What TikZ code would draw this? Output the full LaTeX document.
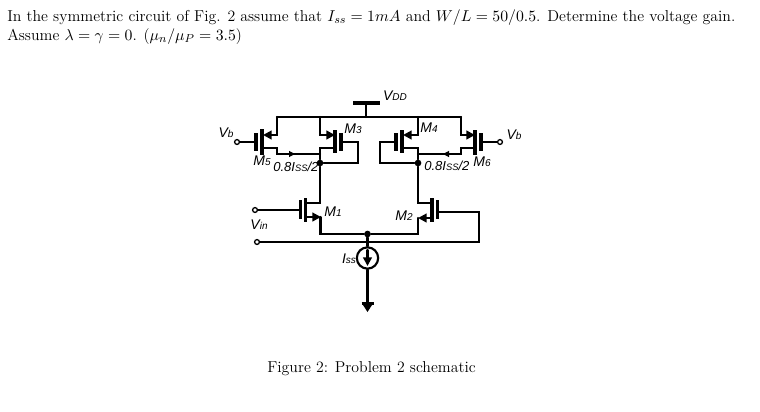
\documentclass[tikz,border=0pt]{standalone}
\usepackage{fontspec}
\newfontfamily\lblfont{Liberation Sans}
\usetikzlibrary{arrows.meta}
\tikzset{
  x=0.75pt,y=-0.75pt,
  wire/.style={line width=1.6pt,line cap=round,line join=miter},
  plate/.style={line width=2.3pt},
  tip/.style={-{Triangle[length=6.5pt,width=6.5pt]},line width=1.6pt,shorten >=0pt},
  smalltip/.style={-{Triangle[length=4.5pt,width=4.5pt]},line width=.8pt},
  term/.style={circle,draw,line width=1pt,fill=white,inner sep=0pt,minimum size=3.6pt},
  dot/.style={circle,fill=black,inner sep=0pt,minimum size=5pt},
  lbl/.style={font=\lblfont\itshape\fontsize{10.5}{12}\selectfont,inner sep=0pt,text=black},
  cur/.style={font=\lblfont\itshape\fontsize{9.8}{12}\selectfont,inner sep=0pt,text=black,anchor=west},
  body/.style={font=\fontsize{11}{13}\selectfont,scale=1.077,inner sep=0pt,anchor=base west}
}
\newcommand{\mysub}[1]{{\fontsize{7.5}{8}\selectfont #1}}
\newcommand{\cursub}[1]{{\fontsize{7}{8}\selectfont #1}}
\begin{document}
\begin{tikzpicture}
\useasboundingbox (0,0) rectangle (760,411);
\node[body] (l1) at (7,21) {In the symmetric circuit of Fig. 2 assume that $I_{ss}=1mA$ and $W/L=50/0.5$. Determine the voltage gain.};
\node[body] (l2) at (7,40) {Assume $\lambda=\gamma=0$. ($\mu_n/\mu_P=3.5$)};
\node[body] (cap) at (267,372) {Figure 2: Problem 2 schematic};
% supply
\coordinate (vl) at (353,103); \coordinate (vr) at (380,103); \coordinate (vt) at (366,103);
\coordinate (rs) at (366,117); \coordinate (rl) at (277,117); \coordinate (rm3) at (320,117);
\coordinate (rm4) at (418,117); \coordinate (rr) at (461,117);
\draw[line width=2.6pt] (vl) -- (vr);
\draw[wire] (vt) -- (rs);
\draw[wire] (rl) -- (rr);
% M5
\node[term] (tb5) at (237,142) {};
\coordinate (g5) at (256,142);
\draw[wire] (tb5) -- (g5);
\draw[plate] (256,133) -- (256,151);
\draw[plate] (262,129) -- (262,155);
\draw[wire] (rl) -- (277,135) -- (270,135);
\draw[tip] (272,135) -- (263,135);
\draw[wire] (262,148) -- (277,148) -- (277,154) -- (320,154);
\draw[smalltip] (285,154) -- (295,154);
% M3
\node[dot] (n3) at (320,163) {};
\draw[wire] (rm3) -- (320,135) -- (328,135);
\draw[tip] (326,135) -- (335,135);
\draw[plate] (335,130) -- (335,153);
\draw[plate] (341,133) -- (341,151);
\draw[wire] (335,148) -- (320,148) -- (n3);
\draw[wire] (341,142) -- (358,142) -- (358,163) -- (n3);
% M4
\node[dot] (n4) at (418,163) {};
\draw[wire] (rm4) -- (418,135) -- (411,135);
\draw[tip] (412,135) -- (403,135);
\draw[plate] (402,130) -- (402,153);
\draw[plate] (396,133) -- (396,151);
\draw[wire] (402,148) -- (418,148) -- (n4);
\draw[wire] (396,142) -- (380,142) -- (380,163) -- (n4);
% M6
\node[term] (tb6) at (500,142) {};
\draw[wire] (rr) -- (461,135) -- (468,135);
\draw[tip] (466,135) -- (475,135);
\draw[plate] (475,130) -- (475,155);
\draw[plate] (481,133) -- (481,151);
\draw[wire] (481,142) -- (tb6);
\draw[wire] (475,148) -- (461,148) -- (461,154) -- (418,154);
\draw[smalltip] (452,154) -- (443,154);
% M1
\node[term] (tin) at (255,210) {};
\node[dot] (tail) at (367.5,234) {};
\draw[wire] (tin) -- (300.5,210);
\draw[plate] (300.5,200) -- (300.5,219);
\draw[plate] (305.5,198) -- (305.5,222);
\draw[wire] (n3) -- (320,203) -- (305.5,203);
\draw[wire] (305.5,217) -- (312,217);
\draw[tip] (311,217) -- (321,217);
\draw[wire] (320.5,217) -- (320.5,234) -- (tail);
% M2
\node[term] (tin2) at (257,242) {};
\draw[wire] (n4) -- (418,203) -- (432,203);
\draw[plate] (432,198) -- (432,222);
\draw[plate] (437.5,200) -- (437.5,219);
\draw[wire] (432,218) -- (425,218);
\draw[tip] (427,218) -- (418,218);
\draw[wire] (418,218) -- (418,234) -- (tail);
\draw[wire] (437,212) -- (479,212) -- (479,242) -- (tin2);
% Iss
\node[circle,draw,line width=1.6pt,minimum size=16pt,inner sep=0pt] (iss) at (367.5,258) {};
\draw[wire] (tail) -- (iss);
\draw[wire] (367.5,250) -- (367.5,258);
\draw[tip] (367.5,255) -- (367.5,266);
\coordinate (gnd) at (367.5,303);
\draw[wire] (iss) -- (gnd);
\draw[line width=2.6pt] (361.5,303.5) -- (373.5,303.5);
\fill (363,305) -- (372,305) -- (367.5,312) -- cycle;
% labels
\node[lbl] (lvdd) at (395,96) {V\mysub{DD}};
\node[lbl] (lvb5) at (226,133) {V\mysub{b}};
\node[lbl] (lvb6) at (514,135) {V\mysub{b}};
\node[lbl] (lm3) at (353,129) {M\mysub{3}};
\node[lbl] (lm4) at (429,128) {M\mysub{4}};
\node[lbl] (lm5) at (262,161) {M\mysub{5}};
\node[lbl] (lm6) at (482,162) {M\mysub{6}};
\node[lbl] (lm1) at (333,212) {M\mysub{1}};
\node[lbl] (lm2) at (404,216) {M\mysub{2}};
\node[cur] (li5) at (273,167) {0.8I\cursub{SS}/2};
\node[cur] (li6) at (424,166) {0.8I\cursub{SS}/2};
\node[lbl] (lin) at (259,225) {V\mysub{in}};
\node[lbl] (liss) at (349,259) {I\mysub{ss}};
\end{tikzpicture}
\end{document}
